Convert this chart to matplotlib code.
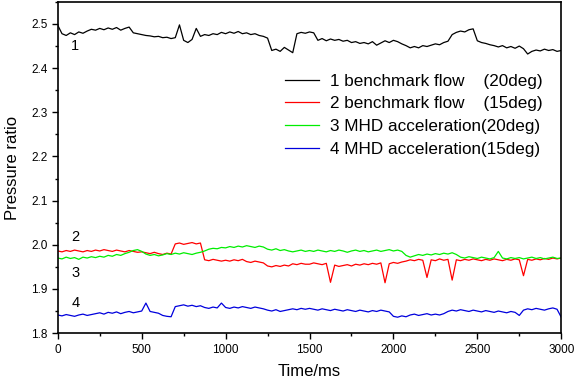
import numpy as np
import matplotlib
matplotlib.use("Agg")
from matplotlib import pyplot as plt
from matplotlib.ticker import MultipleLocator

plt.rcParams['font.family'] = ['Liberation Sans', 'DejaVu Sans']

# time axis, one sample every 25 ms
time_ms = np.linspace(0, 3000, 121)

# 1 benchmark flow (20deg)
bench_20 = [
    2.497, 2.478, 2.474, 2.480, 2.476, 2.482, 2.479, 2.484, 2.488, 2.486,
    2.490, 2.487, 2.491, 2.488, 2.492, 2.486, 2.490, 2.493, 2.480, 2.478,
    2.476, 2.474, 2.473, 2.471, 2.472, 2.469, 2.470, 2.467, 2.469, 2.498,
    2.463, 2.458, 2.465, 2.490, 2.472, 2.476, 2.474, 2.478, 2.476, 2.481,
    2.478, 2.482, 2.479, 2.483, 2.478, 2.480, 2.476, 2.478, 2.474, 2.472,
    2.468, 2.440, 2.443, 2.438, 2.447, 2.441, 2.435, 2.478, 2.481, 2.479,
    2.482, 2.480, 2.463, 2.467, 2.462, 2.466, 2.463, 2.465, 2.461, 2.463,
    2.458, 2.460, 2.456, 2.458, 2.455, 2.460, 2.452, 2.457, 2.462, 2.458,
    2.463, 2.460, 2.455, 2.451, 2.446, 2.449, 2.446, 2.451, 2.449, 2.452,
    2.455, 2.453, 2.458, 2.461, 2.476, 2.481, 2.484, 2.482, 2.487, 2.489,
    2.462, 2.458, 2.456, 2.453, 2.451, 2.448, 2.451, 2.446, 2.449, 2.445,
    2.450, 2.444, 2.432, 2.438, 2.441, 2.439, 2.443, 2.440, 2.442, 2.438,
    2.440,
]

# 2 benchmark flow (15deg)
bench_15 = [
    1.986, 1.984, 1.987, 1.985, 1.988, 1.986, 1.984, 1.987, 1.985, 1.988,
    1.986, 1.989, 1.987, 1.985, 1.988, 1.986, 1.984, 1.987, 1.985, 1.983,
    1.984, 1.982, 1.980, 1.983, 1.980, 1.978, 1.981, 1.979, 2.002, 2.004,
    2.001, 2.003, 2.005, 2.002, 2.004, 1.966, 1.964, 1.967, 1.965, 1.963,
    1.965, 1.963, 1.966, 1.964, 1.967, 1.962, 1.960, 1.963, 1.961, 1.959,
    1.952, 1.950, 1.953, 1.951, 1.954, 1.952, 1.957, 1.955, 1.958, 1.956,
    1.956, 1.959, 1.957, 1.955, 1.958, 1.915, 1.954, 1.951, 1.953, 1.955,
    1.952, 1.956, 1.954, 1.957, 1.955, 1.958, 1.956, 1.959, 1.914, 1.957,
    1.960, 1.958, 1.961, 1.963, 1.966, 1.964, 1.967, 1.965, 1.926, 1.966,
    1.964, 1.968, 1.965, 1.967, 1.920, 1.966, 1.964, 1.967, 1.965, 1.968,
    1.966, 1.964, 1.967, 1.965, 1.968, 1.966, 1.964, 1.967, 1.965, 1.968,
    1.966, 1.930, 1.967, 1.965, 1.968, 1.966, 1.969, 1.967, 1.970, 1.968,
    1.970,
]

# 3 MHD acceleration (20deg)
mhd_20 = [
    1.970, 1.968, 1.972, 1.969, 1.971, 1.967, 1.972, 1.970, 1.973, 1.971,
    1.974, 1.972, 1.976, 1.974, 1.978, 1.976, 1.980, 1.983, 1.987, 1.989,
    1.985, 1.979, 1.976, 1.978, 1.975, 1.977, 1.980, 1.978, 1.981, 1.979,
    1.982, 1.980, 1.978, 1.981, 1.983, 1.986, 1.990, 1.992, 1.991, 1.994,
    1.993, 1.996, 1.994, 1.997, 1.995, 1.998, 1.996, 1.994, 1.997, 1.995,
    1.990, 1.988, 1.991, 1.987, 1.989, 1.986, 1.984, 1.986, 1.988, 1.985,
    1.987, 1.985, 1.988, 1.986, 1.984, 1.987, 1.985, 1.988, 1.986, 1.983,
    1.986, 1.988, 1.985, 1.987, 1.984, 1.986, 1.988, 1.985, 1.987, 1.989,
    1.986, 1.988, 1.985, 1.976, 1.972, 1.975, 1.978, 1.976, 1.979, 1.977,
    1.980, 1.978, 1.981, 1.979, 1.982, 1.978, 1.972, 1.970, 1.973, 1.971,
    1.969, 1.972, 1.970, 1.968, 1.971, 1.985, 1.970, 1.968, 1.971, 1.969,
    1.971, 1.968, 1.970, 1.972, 1.969, 1.971, 1.968, 1.970, 1.972, 1.969,
    1.970,
]

# 4 MHD acceleration (15deg)
mhd_15 = [
    1.841, 1.839, 1.842, 1.840, 1.838, 1.841, 1.843, 1.840, 1.842, 1.844,
    1.846, 1.843, 1.847, 1.845, 1.848, 1.844, 1.847, 1.849, 1.846, 1.848,
    1.850, 1.868, 1.849, 1.847, 1.845, 1.840, 1.838, 1.837, 1.860, 1.862,
    1.864, 1.861, 1.863, 1.860, 1.862, 1.858, 1.856, 1.859, 1.857, 1.868,
    1.858, 1.856, 1.859, 1.857, 1.860, 1.858, 1.856, 1.859, 1.857, 1.855,
    1.852, 1.850, 1.853, 1.849, 1.851, 1.853, 1.855, 1.853, 1.856, 1.854,
    1.856, 1.854, 1.852, 1.855, 1.853, 1.851, 1.854, 1.852, 1.850, 1.853,
    1.851, 1.849, 1.852, 1.850, 1.848, 1.851, 1.849, 1.852, 1.850, 1.848,
    1.838, 1.836, 1.839, 1.837, 1.841, 1.843, 1.840, 1.842, 1.844, 1.841,
    1.843, 1.841, 1.844, 1.849, 1.852, 1.850, 1.853, 1.851, 1.849, 1.852,
    1.850, 1.848, 1.851, 1.849, 1.847, 1.850, 1.848, 1.846, 1.849, 1.847,
    1.840, 1.852, 1.855, 1.853, 1.856, 1.854, 1.852, 1.855, 1.857, 1.854,
    1.836,
]

series = [bench_20, bench_15, mhd_20, mhd_15]
labels = ["1 benchmark flow    (20deg)", "2 benchmark flow    (15deg)",
          "3 MHD acceleration(20deg)", "4 MHD acceleration(15deg)"]
colors = ["#000000", "#ff0000", "#00ee00", "#0000dd"]
# curve number tags: (time, value)
tag_text = ["1", "2", "3", "4"]
tag_pos = [(105, 2.45), (105, 2.017), (105, 1.937), (105, 1.868)]

fig = plt.figure(figsize=(5.78, 3.82), dpi=100)
ax = fig.add_axes([0.100, 0.128, 0.871, 0.867])

for y, lab, c in zip(series, labels, colors):
    ax.plot(time_ms, y, color=c, lw=0.9, label=lab)

for s, (tx, ty) in zip(tag_text, tag_pos):
    ax.text(tx, ty, s, fontsize=10.5, ha="center", va="center")

ax.set_xlim(0, 3000)
ax.set_ylim(1.8, 2.55)
ax.xaxis.set_major_locator(MultipleLocator(500))
ax.xaxis.set_minor_locator(MultipleLocator(250))
ax.yaxis.set_major_locator(MultipleLocator(0.1))
ax.yaxis.set_minor_locator(MultipleLocator(0.05))
ax.tick_params(which="major", direction="out", length=4, width=1, labelsize=8.5)
ax.tick_params(which="minor", direction="out", length=2.5, width=1)
for sp in ax.spines.values():
    sp.set_linewidth(1.2)

ax.set_xlabel("Time/ms", fontsize=12, labelpad=6)
ax.set_ylabel("Pressure ratio", fontsize=12, labelpad=8)

leg = ax.legend(loc="upper left", bbox_to_anchor=(0.451, 0.783), frameon=False,
                fontsize=12.3, handlelength=2.0, handletextpad=0.65,
                labelspacing=0.45, borderpad=0, borderaxespad=0)

plt.savefig("out.png", dpi=100)
